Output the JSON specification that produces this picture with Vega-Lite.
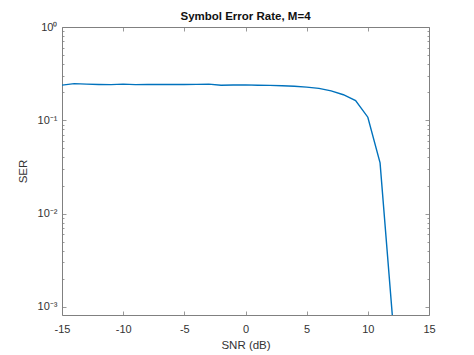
{
  "$schema": "https://vega.github.io/schema/vega-lite/v6.json",
  "autosize": "none",
  "width": 367,
  "height": 288,
  "padding": {"left": 62, "top": 27, "right": 45, "bottom": 40},
  "background": "white",
  "title": {"text": "Symbol Error Rate, M=4", "font": "Liberation Sans", "fontSize": 11.5, "fontWeight": "bold", "color": "#111111", "offset": -1, "anchor": "middle"},
  "config": {
    "view": {"stroke": null},
    "axis": {"domainColor": "#808080", "tickColor": "#808080", "labelColor": "#333333", "titleColor": "#333333", "labelFont": "Liberation Sans", "titleFont": "Liberation Sans", "labelFontSize": 11, "titleFontSize": 11.5, "titleFontWeight": "normal", "grid": false, "domainWidth": 1, "tickWidth": 0.8, "labelFlush": false, "labelOverlap": false}
  },
  "data": {"values": [
    {"snr": -15, "ser": 0.238}, {"snr": -14, "ser": 0.247}, {"snr": -13, "ser": 0.244},
    {"snr": -12, "ser": 0.242}, {"snr": -11, "ser": 0.241}, {"snr": -10, "ser": 0.244},
    {"snr": -9, "ser": 0.241}, {"snr": -8, "ser": 0.243}, {"snr": -7, "ser": 0.242},
    {"snr": -6, "ser": 0.242}, {"snr": -5, "ser": 0.242}, {"snr": -4, "ser": 0.243},
    {"snr": -3, "ser": 0.244}, {"snr": -2, "ser": 0.238}, {"snr": -1, "ser": 0.239},
    {"snr": 0, "ser": 0.240}, {"snr": 1, "ser": 0.238}, {"snr": 2, "ser": 0.237},
    {"snr": 3, "ser": 0.235}, {"snr": 4, "ser": 0.232}, {"snr": 5, "ser": 0.227},
    {"snr": 6, "ser": 0.220}, {"snr": 7, "ser": 0.207}, {"snr": 8, "ser": 0.188},
    {"snr": 9, "ser": 0.163}, {"snr": 10, "ser": 0.108}, {"snr": 11, "ser": 0.035},
    {"snr": 12, "ser": 0.00082}
  ]},
  "layer": [
    {
      "mark": {"type": "line", "color": "#0072BD", "strokeWidth": 1.4, "clip": true},
      "encoding": {
        "x": {"field": "snr", "type": "quantitative", "scale": {"domain": [-15, 15], "nice": false},
          "axis": {"title": "SNR (dB)", "values": [-15, -10, -5, 0, 5, 10, 15], "labelExpr": "'' + datum.value", "tickSize": -4, "labelPadding": 12, "titlePadding": 5}},
        "y": {"field": "ser", "type": "quantitative", "scale": {"type": "log", "domain": [0.00082, 1], "nice": false},
          "axis": {"title": "SER", "titlePadding": 9,
            "values": [0.001,0.002,0.003,0.004,0.005,0.006,0.007,0.008,0.009,0.01,0.02,0.03,0.04,0.05,0.06,0.07,0.08,0.09,0.1,0.2,0.3,0.4,0.5,0.6,0.7,0.8,0.9,1],
            "labelExpr": "datum.value == 1 ? '10⁰' : abs(datum.value - 0.1) < 1e-9 ? '10⁻¹' : abs(datum.value - 0.01) < 1e-9 ? '10⁻²' : abs(datum.value - 0.001) < 1e-9 ? '10⁻³' : ''",
            "tickSize": {"condition": {"test": "abs(log(datum.value)/LN10 - round(log(datum.value)/LN10)) < 1e-6", "value": -4}, "value": -2},
            "labelPadding": 9}}
      }
    },
    {
      "mark": {"type": "line", "opacity": 0},
      "encoding": {
        "x": {"field": "snr", "type": "quantitative", "scale": {"domain": [-15, 15], "nice": false},
          "axis": {"orient": "top", "title": null, "labels": false, "values": [-15, -10, -5, 0, 5, 10, 15], "tickSize": -4}},
        "y": {"field": "ser", "type": "quantitative", "scale": {"type": "log", "domain": [0.00082, 1], "nice": false},
          "axis": {"orient": "right", "title": null, "labels": false,
            "values": [0.001,0.002,0.003,0.004,0.005,0.006,0.007,0.008,0.009,0.01,0.02,0.03,0.04,0.05,0.06,0.07,0.08,0.09,0.1,0.2,0.3,0.4,0.5,0.6,0.7,0.8,0.9,1],
            "tickSize": {"condition": {"test": "abs(log(datum.value)/LN10 - round(log(datum.value)/LN10)) < 1e-6", "value": -4}, "value": -2}}}
      }
    }
  ],
  "resolve": {"axis": {"x": "independent", "y": "independent"}}
}
